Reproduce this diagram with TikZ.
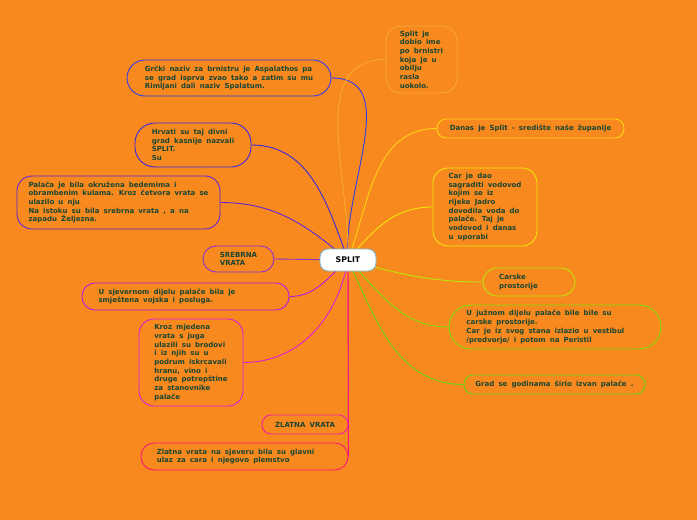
\documentclass[tikz,border=0pt]{standalone}
\usepackage{fontspec}
\setmainfont{DejaVu Sans}[WordSpace=1.7]
\usepackage{xcolor}
\usepackage{tikz}
\usetikzlibrary{backgrounds}

\definecolor{bgorange}{RGB}{247,137,31}
\definecolor{txtgreen}{RGB}{25,70,50}
\definecolor{cSplit}{RGB}{130,180,200}
\definecolor{cGrcki}{RGB}{50,60,230}
\definecolor{cHrvati}{RGB}{60,40,220}
\definecolor{cPalaca}{RGB}{95,40,210}
\definecolor{cSrebrna}{RGB}{140,50,200}
\definecolor{cSjever}{RGB}{175,30,220}
\definecolor{cKroz}{RGB}{220,30,210}
\definecolor{cZlatna}{RGB}{240,30,160}
\definecolor{cUlaz}{RGB}{250,20,120}
\definecolor{cDobio}{RGB}{250,170,40}
\definecolor{cDanas}{RGB}{255,210,20}
\definecolor{cCar}{RGB}{240,230,10}
\definecolor{cCarske}{RGB}{190,230,10}
\definecolor{cJuzno}{RGB}{130,220,10}
\definecolor{cGrad}{RGB}{100,210,10}

\begin{document}
\begin{tikzpicture}[x=1pt,y=-1pt]
  \tikzset{bubble/.style={draw=#1,line width=0.9pt,rounded corners=13pt,align=left,inner sep=0pt,
      text=txtgreen,font=\fontsize{7}{8.7}\selectfont\bfseries},
    link/.style={draw=#1,line width=0.9pt}};
  \useasboundingbox (0,0) rectangle (697,520);
  \node[draw=cSplit,fill=white,line width=0.9pt,rounded corners=8pt,minimum width=56pt,minimum height=22pt,
    inner sep=0pt,text=black,font=\fontsize{7.8}{9}\selectfont\bfseries] (split) at (348,260){SPLIT};
  % lijeva strana
  \node[bubble=cGrcki,rounded corners=18pt,minimum width=204pt,minimum height=36pt] (grcki) at (229,78)
    {Grčki naziv za brnistru je Aspalathos pa\\se grad isprva zvao tako a zatim su mu\\Rimljani dali naziv Spalatum.};
  \node[bubble=cHrvati,rounded corners=20pt,minimum width=116pt,minimum height=44pt] (hrvati) at (193,145)
    {Hrvati su taj divni\\grad kasnije nazvali\\SPLIT.\\Su};
  \node[bubble=cPalaca,rounded corners=15pt,minimum width=203pt,minimum height=53pt] (palaca) at (118.5,202.5)
    {Palača je bila okružena bedemima i\\obrambenim kulama. Kroz četvora vrata se\\ulazilo u nju\\Na istoku su bila srebrna vrata , a na\\zapadu Željezna.};
  \node[bubble=cSrebrna,minimum width=71pt,minimum height=26pt] (srebrna) at (238.5,259)
    {SREBRNA\\VRATA};
  \node[bubble=cSjever,minimum width=207pt,minimum height=27pt] (sjever) at (185.5,296.5)
    {U sjevernom dijelu palače bila je\hspace*{37pt}\\smještena vojska i posluga.};
  \node[bubble=cKroz,rounded corners=15pt,minimum width=104pt,minimum height=87pt] (kroz) at (191,362.5)
    {Kroz mjedena\\vrata s juga\\ulazili su brodovi\\i iz njih su u\\podrum iskrcavali\\hranu, vino i\\druge potrepštine\\za stanovnike\\palače};
  \node[bubble=cZlatna,rounded corners=9pt,minimum width=86pt,minimum height=19pt] (zlatna) at (305,424.5)
    {ZLATNA VRATA};
  \node[bubble=cUlaz,minimum width=207pt,minimum height=27pt] (ulaz) at (244.5,456.5)
    {Zlatna vrata na sjeveru bila su glavni\hspace*{18pt}\\ulaz za cara i njegovo plemstvo};
  % desna strana
  \node[bubble=cDobio,rounded corners=15pt,minimum width=71pt,minimum height=67pt] (dobio) at (421.5,59.5)
    {Split je\\dobio ime\\po brnistri\\koja je u\\obilju\\rasla\\uokolo.};
  \node[bubble=cDanas,rounded corners=9pt,minimum width=187pt,minimum height=19pt] (danas) at (530.5,128.5)
    {Danas je Split - središte naše županije};
  \node[bubble=cCar,rounded corners=15pt,minimum width=104pt,minimum height=78pt] (car) at (485,207)
    {Car je dao\\sagraditi vodovod\\kojim se iz\\rijeke Jadro\\dovodila voda do\\palače. Taj je\\vodovod i danas\\u uporabi};
  \node[bubble=cCarske,rounded corners=14pt,minimum width=92pt,minimum height=28pt] (carske) at (529,282)
    {Carske\\prostorije\hspace*{21pt}};
  \node[bubble=cJuzno,rounded corners=22pt,minimum width=212pt,minimum height=44pt] (juzno) at (555,327)
    {U južnom dijelu palače bile bile su\hspace*{32pt}\\carske prostorije.\\Car je iz svog stana izlazio u vestibul\\/predvorje/ i potom na Peristil};
  \node[bubble=cGrad,rounded corners=9pt,minimum width=181pt,minimum height=19pt] (grad) at (554.5,384.5)
    {Grad se godinama širio izvan palače .};
  \begin{pgfonlayer}{background}
    \fill[bgorange] (0,0) rectangle (697,520);
    \draw[link=cGrcki] (split.center) to[out=95,in=0] (grcki.east);
    \draw[link=cHrvati] (split.center) to[out=110,in=0] (hrvati.east);
    \draw[link=cPalaca] (split.center) to[out=140,in=0] (palaca.east);
    \draw[link=cSrebrna] (split.center) -- (srebrna.east);
    \draw[link=cSjever] (split.center) to[out=220,in=0] (sjever.east);
    \draw[link=cKroz] (split.center) to[out=260,in=0] (kroz.east);
    \draw[link=cZlatna] (split.center) -- (zlatna.east);
    \draw[link=cUlaz] (split.center) -- (ulaz.east);
    \draw[link=cDobio] (split.center) to[out=88,in=180] (dobio.west);
    \draw[link=cDanas] (split.center) to[out=70,in=180] (danas.west);
    \draw[link=cCar] (split.center) to[out=50,in=180] (car.west);
    \draw[link=cCarske] (split.center) to[out=-15,in=180] (carske.west);
    \draw[link=cJuzno] (split.center) to[out=-45,in=180] (juzno.west);
    \draw[link=cGrad] (split.center) to[out=-65,in=180] (grad.west);
  \end{pgfonlayer}
\end{tikzpicture}
\end{document}
